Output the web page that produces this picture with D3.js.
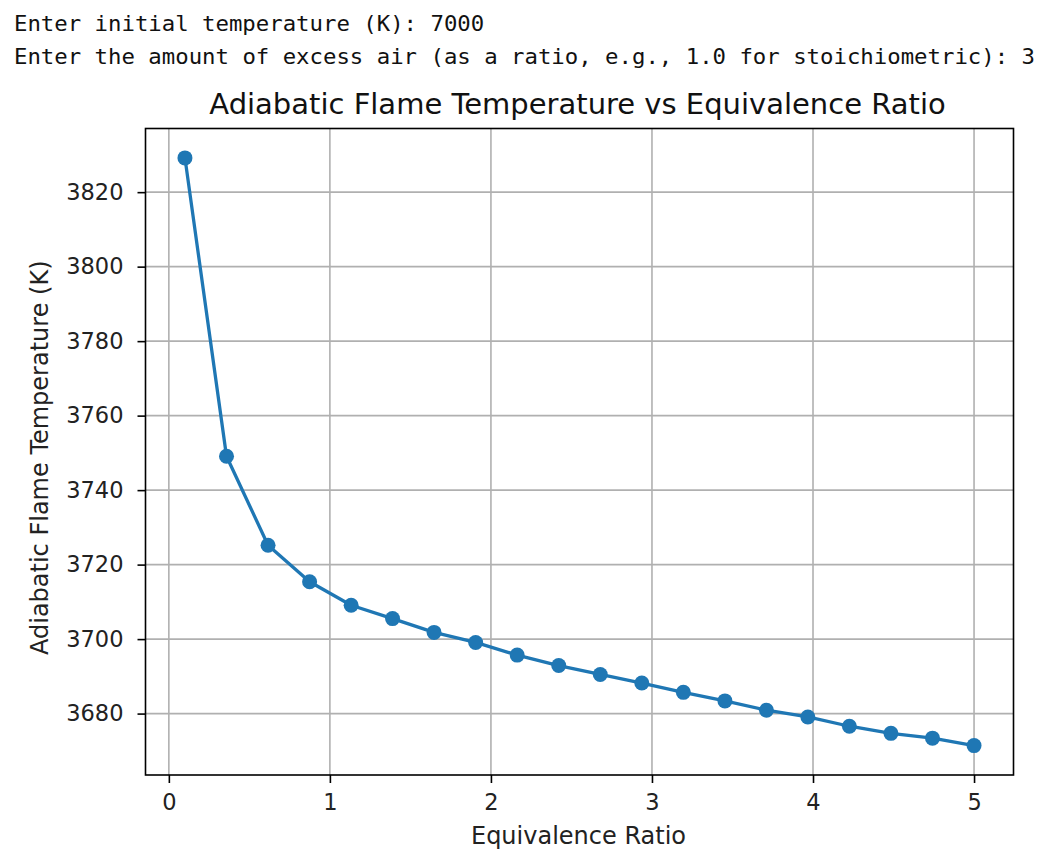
<!DOCTYPE html>
<html>
<head>
<meta charset="utf-8">
<script src="https://cdn.jsdelivr.net/npm/d3@7"></script>
<style>
  body { margin: 0; background: #fff; }
  svg { display: block; }
</style>
</head>
<body>
<script>
// DATA ––––––––––––––––––––––––––––––––––––––––––––––––––––––––––––––––
var consoleLines = [
  "Enter initial temperature (K): 7000",
  "Enter the amount of excess air (as a ratio, e.g., 1.0 for stoichiometric): 3"
];

// equivalence ratio, 20 points from 0.1 to 5
var ratios = [0.1, 0.358, 0.616, 0.874, 1.132, 1.389, 1.647, 1.905, 2.163, 2.421,
              2.679, 2.937, 3.195, 3.453, 3.711, 3.968, 4.226, 4.484, 4.742, 5.0];

var flameTemps = [3829.2, 3749.1, 3725.2, 3715.4, 3709.1, 3705.5, 3701.8, 3699.1, 3695.7, 3692.9,
                  3690.5, 3688.2, 3685.7, 3683.4, 3680.9, 3679.1, 3676.6, 3674.7, 3673.4, 3671.4];

var xTicks = [0, 1, 2, 3, 4, 5];
var yTicks = [3680, 3700, 3720, 3740, 3760, 3780, 3800, 3820];

var title = "Adiabatic Flame Temperature vs Equivalence Ratio",
    xLabel = "Equivalence Ratio",
    yLabel = "Adiabatic Flame Temperature (K)";

// DRAW ––––––––––––––––––––––––––––––––––––––––––––––––––––––––––––––––
var width = 1061, height = 862;
var plot = {left: 145.5, right: 1013.5, top: 128.5, bottom: 775};
var blue = "#1f77b4";

var svg = d3.select("body").append("svg")
    .attr("width", width)
    .attr("height", height);

// console text above the figure
var charW = 1021 / consoleLines[1].length;
svg.selectAll("text.console")
    .data(consoleLines)
  .enter().append("text")
    .attr("class", "console")
    .attr("x", 14)
    .attr("y", function(d, i) { return 31 + i * 33; })
    .attr("font-family", "'DejaVu Sans Mono', 'Liberation Mono', monospace")
    .attr("font-size", 22)
    .attr("fill", "#111")
    .attr("textLength", function(d) { return d.length * charW; })
    .attr("lengthAdjust", "spacingAndGlyphs")
    .text(function(d) { return d; });

// scales with matplotlib's 5% margins
var xPad = (d3.max(ratios) - d3.min(ratios)) * 0.05,
    yPad = (d3.max(flameTemps) - d3.min(flameTemps)) * 0.05;

var x = d3.scaleLinear()
    .domain([d3.min(ratios) - xPad, d3.max(ratios) + xPad])
    .range([plot.left, plot.right]);

var y = d3.scaleLinear()
    .domain([d3.min(flameTemps) - yPad, d3.max(flameTemps) + yPad])
    .range([plot.bottom, plot.top]);

var font = "'DejaVu Sans', sans-serif";

// grid
var grid = svg.append("g").attr("stroke", "#b0b0b0").attr("stroke-width", 1.6);
grid.selectAll("line.gx").data(xTicks).enter().append("line")
    .attr("x1", function(d) { return x(d); }).attr("x2", function(d) { return x(d); })
    .attr("y1", plot.top).attr("y2", plot.bottom);
grid.selectAll("line.gy").data(yTicks).enter().append("line")
    .attr("y1", function(d) { return y(d); }).attr("y2", function(d) { return y(d); })
    .attr("x1", plot.left).attr("x2", plot.right);

// axes
var xAxis = svg.append("g")
    .attr("transform", "translate(0," + plot.bottom + ")")
    .call(d3.axisBottom(x).tickValues(xTicks).tickSize(8).tickPadding(11).tickFormat(d3.format("d")));

var yAxis = svg.append("g")
    .attr("transform", "translate(" + plot.left + ",0)")
    .call(d3.axisLeft(y).tickValues(yTicks).tickSize(8).tickPadding(14).tickFormat(d3.format("d")));

[xAxis, yAxis].forEach(function(ax) {
  ax.select(".domain").remove();
  ax.selectAll(".tick line").attr("stroke", "#000").attr("stroke-width", 1.6);
  ax.selectAll(".tick text")
    .attr("font-family", font)
    .attr("font-size", 22.5)
    .attr("fill", "#222");
});

// frame
svg.append("rect")
    .attr("x", plot.left).attr("y", plot.top)
    .attr("width", plot.right - plot.left)
    .attr("height", plot.bottom - plot.top)
    .attr("fill", "none")
    .attr("stroke", "#000")
    .attr("stroke-width", 1.6);

// series
var points = ratios.map(function(r, i) { return {r: r, t: flameTemps[i]}; });

var line = d3.line()
    .x(function(d) { return x(d.r); })
    .y(function(d) { return y(d.t); });

svg.append("path")
    .datum(points)
    .attr("fill", "none")
    .attr("stroke", blue)
    .attr("stroke-width", 3.3)
    .attr("stroke-linejoin", "round")
    .attr("d", line);

svg.selectAll("circle.pt")
    .data(points)
  .enter().append("circle")
    .attr("class", "pt")
    .attr("cx", function(d) { return x(d.r); })
    .attr("cy", function(d) { return y(d.t); })
    .attr("r", 7.5)
    .attr("fill", blue);

// labels
var cx = (plot.left + plot.right) / 2;

svg.append("text")
    .attr("x", cx - 2).attr("y", 114)
    .attr("text-anchor", "middle")
    .attr("font-family", font)
    .attr("font-size", 29)
    .attr("fill", "#111")
    .text(title);

svg.append("text")
    .attr("x", cx - 1).attr("y", 844)
    .attr("text-anchor", "middle")
    .attr("font-family", font)
    .attr("font-size", 24)
    .attr("fill", "#222")
    .text(xLabel);

svg.append("text")
    .attr("transform", "translate(48," + ((plot.top + plot.bottom) / 2 + 6) + ") rotate(-90)")
    .attr("text-anchor", "middle")
    .attr("font-family", font)
    .attr("font-size", 24)
    .attr("fill", "#222")
    .text(yLabel);
</script>
</body>
</html>
